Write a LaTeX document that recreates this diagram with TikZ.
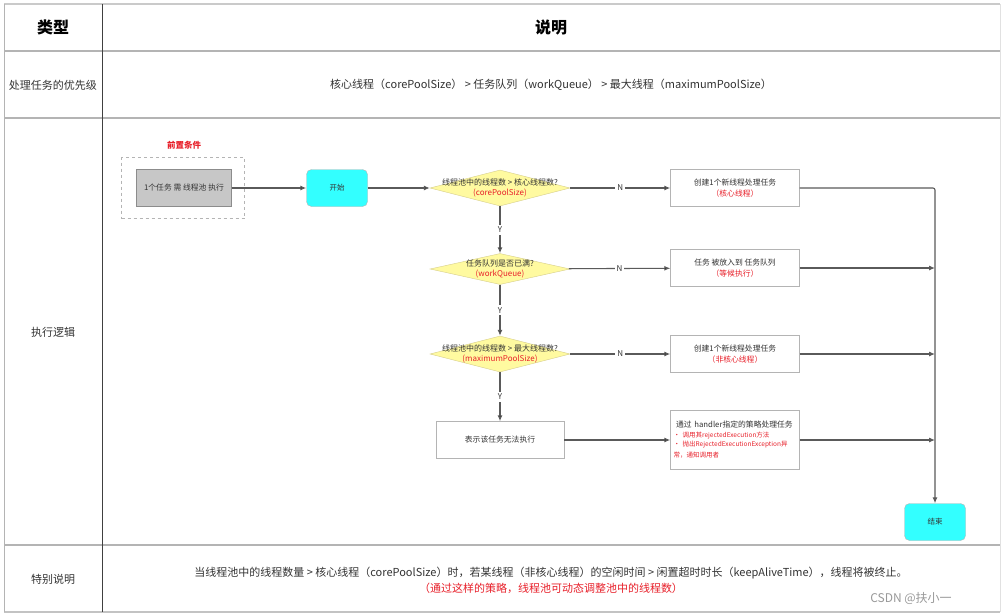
\documentclass[tikz,border=0pt]{standalone}
\usepackage{fontspec}
\setmainfont{Noto Sans CJK SC}
\usetikzlibrary{shapes.geometric,arrows.meta}

\definecolor{gridgray}{HTML}{B4B4B4}
\definecolor{txtgray}{HTML}{333333}
\definecolor{linegray}{HTML}{5A5A5A}
\definecolor{warnred}{HTML}{E8202A}
\definecolor{startcyan}{HTML}{33FFFF}
\definecolor{decfill}{HTML}{FFFAA0}
\definecolor{decdraw}{HTML}{D6CE8A}

\tikzstyle{cell}=[text=txtgray, font=\fontsize{11}{15}\selectfont, align=center]
\tikzstyle{head}=[text=black, font=\fontsize{16}{18}\selectfont\bfseries]
\tikzstyle{proc}=[rectangle, draw=gridgray, fill=white, minimum width=129pt, minimum height=37pt,
  text=txtgray, font=\fontsize{7.8}{11}\selectfont, align=center, inner sep=2pt]
\tikzstyle{terminal}=[rectangle, rounded corners=5pt, draw=gridgray, fill=startcyan,
  minimum width=61pt, minimum height=37pt, text=txtgray, font=\fontsize{7.5}{10}\selectfont]
\tikzstyle{decision}=[diamond, draw=decdraw, fill=decfill, minimum width=140pt, minimum height=36pt, inner sep=0pt]
\tikzstyle{dtext}=[text=txtgray, font=\fontsize{8}{10.5}\selectfont, align=center, inner sep=0pt]
\tikzstyle{lbl}=[fill=white, text=txtgray, font=\fontsize{8}{10}\selectfont, inner sep=2pt]
\tikzstyle{arrow}=[draw=linegray, line width=1.1pt, -{Latex[length=6pt,width=5pt]}]

\begin{document}
\begin{tikzpicture}[x=1pt, y=-1pt]
    \useasboundingbox (0,0) rectangle (1002,616);
    \fill[white] (0,0) rectangle (1002,616);

    % table grid
    \draw[gridgray!70, line width=1.5pt] (4,4) -- (1000,4);
    \draw[gridgray, line width=2pt] (4,51) -- (1000,51);
    \draw[gridgray, line width=2pt] (4,118) -- (1000,118);
    \draw[gridgray, line width=2pt] (4,545) -- (1000,545);
    \draw[gridgray!80, line width=2pt] (4,612) -- (1000,612);
    \draw[gridgray, line width=0.8pt] (4,4) -- (4,612);
    \draw[gridgray!40, line width=0.8pt] (1000,4) -- (1000,612);
    \draw[black!75, line width=0.8pt] (102,4) -- (102,612);

    % table texts
    \node[head] (hdtype) at (53,27) {类型};
    \node[head] (hddesc) at (551,27) {说明};
    \node[cell] (prio) at (53,85) {处理任务的优先级};
    \node[cell] (priotxt) at (551,85) {核心线程（corePoolSize） > 任务队列（workQueue） > 最大线程（maximumPoolSize）};
    \node[cell] (logic) at (53,332) {执行逻辑};
    \node[cell] (note) at (53,579) {特别说明};
    \node[cell, font=\fontsize{11}{16}\selectfont] (notetxt) at (551,580)
      {当线程池中的线程数量 > 核心线程（corePoolSize）时，若某线程（非核心线程）的空闲时间 > 闲置超时时长（keepAliveTime），线程将被终止。\\
       \textcolor{warnred}{（通过这样的策略，线程池可动态调整池中的线程数）}};
    \node[text=black!40, font=\fontsize{12}{14}\selectfont] (mark) at (911,598) {CSDN @扶小一};

    % flow chart
    \node[rectangle, draw=gridgray, dashed, line width=0.9pt, minimum width=123pt, minimum height=61pt] (pre) at (183,188) {};
    \node[text=warnred, font=\fontsize{8.5}{10}\selectfont\bfseries] (pretitle) at (184,145) {前置条件};
    \node[proc, draw=black!45, fill=black!22, minimum width=95pt] (task) at (184,188) {1个任务 需 线程池 执行};
    \node[terminal] (start) at (337,188) {开始};
    \node[decision, label={[dtext]center:{线程池中的线程数 > 核心线程数?\\\textcolor{warnred}{(corePoolSize)}}}] (d1) at (500,188) {};
    \node[decision, minimum height=31pt, label={[dtext]center:{任务队列是否已满?\\\textcolor{warnred}{(workQueue)}}}] (d2) at (500,269) {};
    \node[decision, label={[dtext]center:{线程池中的线程数 > 最大线程数?\\\textcolor{warnred}{(maximumPoolSize)}}}] (d3) at (500,354) {};
    \node[proc] (b1) at (735,188) {创建1个新线程处理任务\\\textcolor{warnred}{（核心线程）}};
    \node[proc] (b2) at (735,268) {任务 被放入到 任务队列\\\textcolor{warnred}{（等候执行）}};
    \node[proc] (b3) at (735,354) {创建1个新线程处理任务\\\textcolor{warnred}{（非核心线程）}};
    \node[proc, minimum width=128pt] (reject) at (500,440) {表示该任务无法执行};
    \node[proc, minimum height=59pt, text width=123pt, align=left, inner sep=3pt] (handler) at (735,440)
      {\ 通过 handler指定的策略处理任务\\[1pt]
       {\fontsize{6.5}{9}\selectfont\color{warnred}• 调用其rejectedExecution方法\\
       • 抛出RejectedExecutionException异\\常，通知调用者}};
    \node[terminal] (stop) at (935,522) {结束};

    \path[arrow]
    (task) edge (start)
    (start) edge (d1)
    (d1) edge node[lbl]{N} (b1)
    (d2) edge node[lbl]{N} (b2)
    (d3) edge node[lbl]{N} (b3)
    (d1) edge node[lbl]{Y} (d2)
    (d2) edge node[lbl]{Y} (d3)
    (d3) edge node[lbl]{Y} (reject)
    (reject) edge (handler)
    ;
    \draw[arrow, rounded corners=2pt] (b1.east) -| (stop.north);
    \draw[arrow] (b2.east) -- (b2.east -| stop.north);
    \draw[arrow] (b3.east) -- (b3.east -| stop.north);
    \draw[arrow] (handler.east) -- (handler.east -| stop.north);
  \end{tikzpicture}
\end{document}
